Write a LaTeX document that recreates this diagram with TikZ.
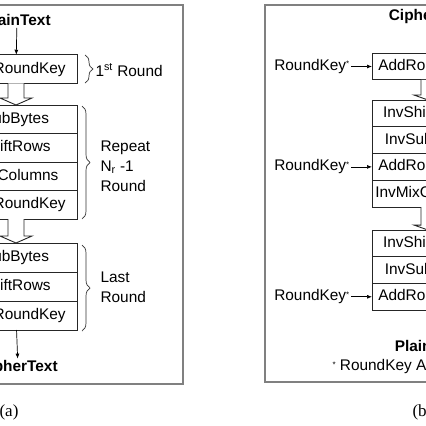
\documentclass[tikz,border=0pt]{standalone}
\usepackage{fontspec}
\setmainfont{Liberation Sans}
\newfontfamily\capfont{Liberation Serif}
\usetikzlibrary{positioning, arrows.meta, calc, decorations.pathreplacing}

\newcommand{\keymark}{\raisebox{3.5pt}{\fontsize{8}{8}\selectfont *}}

\begin{document}
\begin{tikzpicture}[x=1pt, y=-1pt,
  font=\fontsize{15.4}{20}\selectfont,
  stage/.style={draw=black!85, line width=1pt, minimum width=122pt, minimum height=28.5pt,
    text height=11pt, text depth=3pt, inner sep=0pt, outer sep=0pt},
  invstage/.style={stage, minimum width=112pt, minimum height=26.75pt},
  title/.style={font=\fontsize{15.4}{20}\selectfont\bfseries, inner sep=2pt},
  frame/.style={draw=black!50, line width=2pt},
  bracket/.style={decorate, decoration={brace, amplitude=8pt}, draw=black!80, line width=0.7pt},
  hollow/.style={draw=black!85, fill=white, line width=0.9pt, line join=miter},
  key/.style={inner sep=1.5pt},
  flow/.style={-{Latex[length=5pt, width=4pt]}, line width=0.7pt}
]
\useasboundingbox (0,0) rectangle (426,426);
\clip (0,0) rectangle (426,426);

% (a) encryption
\draw[frame] (-10,5) rectangle (183,384);
\node[title] (pt) at (17,20) {PlainText};
\node[stage] (a1) at (16,69) {AddRoundKey};
\node[stage] (a2) at (16,119.25) {SubBytes};
\node[stage, below=0pt of a2] (a3) {ShiftRows};
\node[stage, below=0pt of a3] (a4) {MixColumns};
\node[stage, below=0pt of a4] (a5) {AddRoundKey};
\node[stage, minimum height=29pt] (a6) at (16,257.5) {SubBytes};
\node[stage, minimum height=29pt, below=0pt of a6] (a7) {ShiftRows};
\node[stage, minimum height=29pt, below=0pt of a7] (a8) {AddRoundKey};
\node[title] (ct) at (18,368) {CipherText};
\draw[flow] (pt) -- (a1);
\draw[flow] (a8) -- (ct);

\draw[bracket] (85,55) -- (85,83);
\node[anchor=west] (first) at (92,70) {1\textsuperscript{st} Round};
\draw[bracket] (82,106) -- (82,219);
\node[anchor=west, align=left] (repeat) at (97,166) {Repeat\\N\textsubscript{r} -1\\Round};
\draw[bracket] (82,245) -- (82,331);
\node[anchor=west, align=left] (last) at (97,287) {Last\\Round};

% (b) decryption
\draw[frame] (265,5) rectangle (440,382);
\node[title] (ct2) at (428.5,17) {CipherText};
\node[invstage] (b1) at (428,66.5) {AddRoundKey};
\node[invstage] (b2) at (428,113.4) {InvShiftRows};
\node[invstage, below=0pt of b2] (b3) {InvSubBytes};
\node[invstage, below=0pt of b3] (b4) {AddRoundKey};
\node[invstage, below=0pt of b4] (b5) {InvMixColumns};
\node[invstage, minimum height=26.7pt] (b6) at (428,243.4) {InvShiftRows};
\node[invstage, minimum height=26.7pt, below=0pt of b6] (b7) {InvSubBytes};
\node[invstage, minimum height=26.7pt, below=0pt of b7] (b8) {AddRoundKey};
\node[title] (pt2) at (428.5,346) {PlainText};
\node[anchor=west] (note) at (329,367) {\keymark\ RoundKey Accessed in Reverse Order};

\foreach \blk in {b1, b4, b8}
  \node[key, left=21pt of \blk] (k\blk) {RoundKey\keymark};
\foreach \blk in {b1, b4, b8}
  \draw[flow] (k\blk) -- (\blk);

% block arrows between the rounds
\foreach \src/\dst/\w/\h in {a1/a2/8/7, a5/a6/8/7, b1/b2/7/5, b5/b6/7/5}
  \draw[hollow] ($(\src.south)+(-\w,0)$) -- ($(\dst.north)+(-\w,-\h)$)
    -- ($(\dst.north)+(-2*\w,-\h)$) -- (\dst.north) -- ($(\dst.north)+(2*\w,-\h)$)
    -- ($(\dst.north)+(\w,-\h)$) -- ($(\src.south)+(\w,0)$);

\node[font=\capfont\fontsize{17}{20}\selectfont] (capa) at (9,412) {(a)};
\node[font=\capfont\fontsize{17}{20}\selectfont, anchor=west] (capb) at (409,412) {(b)};
\end{tikzpicture}
\end{document}
